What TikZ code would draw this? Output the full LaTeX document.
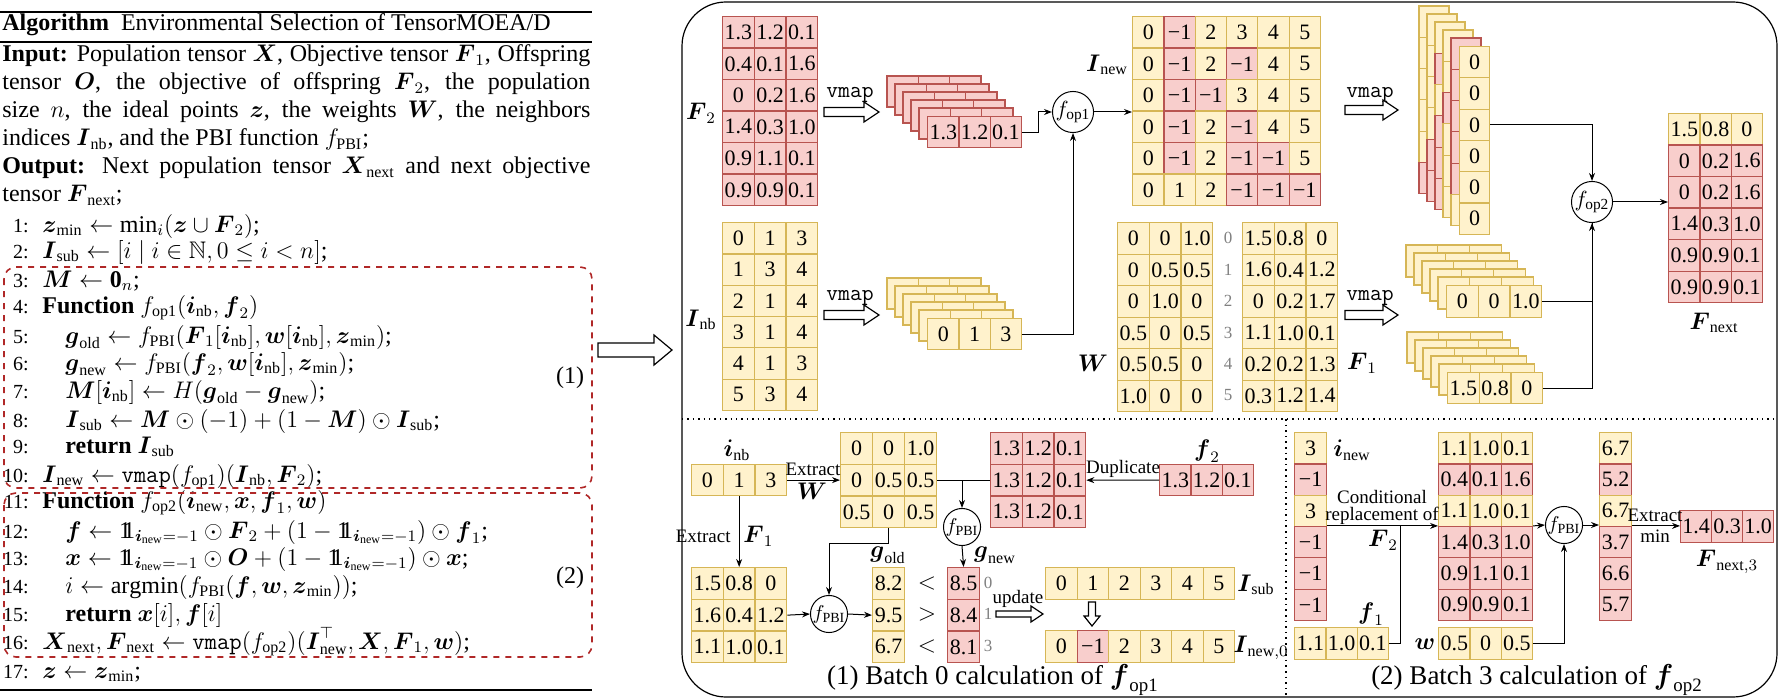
\documentclass[tikz,border=0pt]{standalone}
\usepackage{amsmath,amssymb}
\usepackage{fontspec}
\setmainfont{Liberation Serif}
\usetikzlibrary{arrows.meta,calc}
\definecolor{yF}{HTML}{FFF2CC}\definecolor{yD}{HTML}{D6B656}
\definecolor{rF}{HTML}{F8CECC}\definecolor{rD}{HTML}{B85450}
\definecolor{dred}{HTML}{B02828}
\newcommand\cellfont{\fontsize{11}{13}\selectfont}
\newcommand\algfont{\fontsize{12}{14}\selectfont}
\newcommand\bs[1]{\boldsymbol{#1}}
\newcommand\indic{\mathrm{1\!\!1}}
\newcommand\mrow[6]{\foreach[count=\i from 0] \cc/\t in #6{%
  \node[cell,fill=\cc F,draw=\cc D,minimum width=#4*0.5pt,minimum height=#5*0.5pt] (#1-\i) at (#2+\i*#4,#3) {\t};}}
\newcommand\mat[6]{\foreach[count=\j from 0] \rr in #6{\mrow{#1-\j}{#2}{#3+\j*#5}{#4}{#5}{\rr}}}
\newcommand\mcol[6]{\foreach[count=\i from 0] \cc/\t in #6{%
  \node[cell,fill=\cc F,draw=\cc D,minimum width=#4*0.5pt,minimum height=#5*0.5pt] (#1-\i) at (#2,#3+\i*#5) {\t};}}
\newcommand\hstack[7]{\foreach \k in {5,...,1}{\foreach \i in {0,1,2}{%
  \draw[fill=#6F,draw=#6D,line width=.6pt] (#2+\i*#4-\k*8,#3-\k*8) rectangle ++(#4,#5);}}%
  \mrow{#1}{#2}{#3}{#4}{#5}{#7}}
\newcommand\harrow[6]{\draw[fill=white,line width=.6pt] (#1,#3-#4) -- (#2-#6,#3-#4) -- (#2-#6,#3-#5) -- (#2,#3) -- (#2-#6,#3+#5) -- (#2-#6,#3+#4) -- (#1,#3+#4) -- cycle;}
\newcommand\varrow[6]{\draw[fill=white,line width=.6pt] (#1-#4,#2) -- (#1-#4,#3-#6) -- (#1-#5,#3-#6) -- (#1,#3) -- (#1+#5,#3-#6) -- (#1+#4,#3-#6) -- (#1+#4,#2) -- cycle;}
\begin{document}
\begin{tikzpicture}[x=0.5pt,y=-0.5pt,
  cell/.style={inner sep=0pt,anchor=north west,font=\cellfont,line width=.6pt},
  arr/.style={-{Stealth[length=4pt,width=3pt]},line width=.5pt},
  ln/.style={line width=.5pt},
  op/.style={circle,draw,inner sep=0pt,minimum size=20pt,font=\cellfont,line width=.5pt},
  pbi/.style={circle,draw,inner sep=0pt,minimum size=15.5pt,font=\fontsize{10}{12}\selectfont,line width=.5pt},
  lab/.style={font=\fontsize{12}{14}\selectfont,inner sep=1pt},
  wd/.style={font=\fontsize{9.5}{11}\selectfont,inner sep=1pt},
  num/.style={anchor=base east,font=\fontsize{10}{10}\selectfont,inner sep=0pt},
  alg/.style={anchor=base west,font=\algfont,inner sep=0pt},
  idx/.style={font=\fontsize{8.5}{9}\selectfont,text=gray,inner sep=0pt},
  vm/.style={font=\ttfamily\fontsize{11.5}{12}\selectfont,inner sep=0pt}]
\useasboundingbox (0,0) rectangle (1780,700);
% ---------------- algorithm ----------------
\draw[line width=0.9pt] (0,12) -- (592,12);
\draw[line width=0.6pt] (0,42) -- (592,42);
\draw[line width=0.6pt] (0,690) -- (592,690);
\node[alg] (title) at (2,31) {\textbf{Algorithm}\ \ Environmental Selection of TensorMOEA/D};
\node[alg,text width=294pt,align=justify] (inp) at (2,62) {\hyphenpenalty=10000\hangindent=20pt\hangafter=1 \textbf{Input:} Population tensor $\bs{X}$, Objective tensor $\bs{F}_1$, Offspring\linebreak tensor $\bs{O}$, the objective of offspring $\bs{F}_2$, the population\linebreak size $n$, the ideal points $\bs{z}$, the weights $\bs{W}$, the neighbors\linebreak indices $\bs{I}_{\mathrm{nb}}$, and the PBI function $f_{\mathrm{PBI}}$;};
\node[alg,text width=294pt,align=justify] (outp) at (2,174) {\hyphenpenalty=10000\hangindent=20pt\hangafter=1 \textbf{Output:} Next population tensor $\bs{X}_{\mathrm{next}}$ and next objective\linebreak tensor $\bs{F}_{\mathrm{next}}$;};
\foreach \n/\yy in {1/232,2/258,3/287,4/313,5/343,6/370,7/398,8/427,9/453,10/482,11/508,12/538,13/565,14/593,15/621,16/649,17/678}{\node[num] (n\n) at (29,\yy) {\n:};}
\node[alg] (l1) at (42,232) {$\bs{z}_{\min}\leftarrow\min_i(\bs{z}\cup\bs{F}_2)$;};
\node[alg] (l2) at (42,258) {$\bs{I}_{\mathrm{sub}}\leftarrow[i\mid i\in\mathbb{N},0\le i<n]$;};
\node[alg] (l3) at (42,287) {$\bs{M}\leftarrow\mathbf{0}_n$;};
\node[alg] (l4) at (42,313) {\textbf{Function} $f_{\mathrm{op1}}(\bs{i}_{\mathrm{nb}},\bs{f}_2)$};
\node[alg] (l5) at (65,343) {$\bs{g}_{\mathrm{old}}\leftarrow f_{\mathrm{PBI}}(\bs{F}_1[\bs{i}_{\mathrm{nb}}],\bs{w}[\bs{i}_{\mathrm{nb}}],\bs{z}_{\min})$;};
\node[alg] (l6) at (65,370) {$\bs{g}_{\mathrm{new}}\leftarrow f_{\mathrm{PBI}}(\bs{f}_2,\bs{w}[\bs{i}_{\mathrm{nb}}],\bs{z}_{\min})$;};
\node[alg] (l7) at (65,398) {$\bs{M}[\bs{i}_{\mathrm{nb}}]\leftarrow H(\bs{g}_{\mathrm{old}}-\bs{g}_{\mathrm{new}})$;};
\node[alg] (l8) at (65,427) {$\bs{I}_{\mathrm{sub}}\leftarrow\bs{M}\odot(-1)+(1-\bs{M})\odot\bs{I}_{\mathrm{sub}}$;};
\node[alg] (l9) at (65,453) {\textbf{return} $\bs{I}_{\mathrm{sub}}$};
\node[alg] (l10) at (42,482) {$\bs{I}_{\mathrm{new}}\leftarrow\mathtt{vmap}(f_{\mathrm{op1}})(\bs{I}_{\mathrm{nb}},\bs{F}_2)$;};
\node[alg] (l11) at (42,508) {\textbf{Function} $f_{\mathrm{op2}}(\bs{i}_{\mathrm{new}},\bs{x},\bs{f}_1,\bs{w})$};
\node[alg] (l12) at (65,538) {$\bs{f}\leftarrow\indic_{\bs{i}_{\mathrm{new}}=-1}\odot\bs{F}_2+(1-\indic_{\bs{i}_{\mathrm{new}}=-1})\odot\bs{f}_1$;};
\node[alg] (l13) at (65,565) {$\bs{x}\leftarrow\indic_{\bs{i}_{\mathrm{new}}=-1}\odot\bs{O}+(1-\indic_{\bs{i}_{\mathrm{new}}=-1})\odot\bs{x}$;};
\node[alg] (l14) at (65,593) {$i\leftarrow\mathrm{argmin}(f_{\mathrm{PBI}}(\bs{f},\bs{w},\bs{z}_{\min}))$;};
\node[alg] (l15) at (65,621) {\textbf{return} $\bs{x}[i],\bs{f}[i]$};
\node[alg] (l16) at (42,649) {$\bs{X}_{\mathrm{next}},\bs{F}_{\mathrm{next}}\leftarrow\mathtt{vmap}(f_{\mathrm{op2}})(\bs{I}_{\mathrm{new}}^{\top},\bs{X},\bs{F}_1,\bs{w})$;};
\node[alg] (l17) at (42,678) {$\bs{z}\leftarrow\bs{z}_{\min}$;};
\draw[dashed,dred,line width=0.8pt,rounded corners=6pt] (4,267) rectangle (592,488);
\draw[dashed,dred,line width=0.8pt,rounded corners=6pt] (4,493) rectangle (592,657);
\node[font=\algfont] (b1) at (570,378) {(1)};
\node[font=\algfont] (b2) at (570,578) {(2)};
\harrow{598}{672}{350}{7}{15}{18}
% ---------------- panel ----------------
\draw[line width=.6pt,rounded corners=22pt] (682,2) rectangle (1777,697);
\draw[dotted,line width=.7pt] (682,419) -- (1777,419);
\draw[dotted,line width=.8pt] (1286,419) -- (1286,697);
% top
\mat{F2}{722}{16}{31.7}{31.5}{{{r/1.3,r/1.2,r/0.1},{r/0.4,r/0.1,r/1.6},{r/0,r/0.2,r/1.6},{r/1.4,r/0.3,r/1.0},{r/0.9,r/1.1,r/0.1},{r/0.9,r/0.9,r/0.1}}}
\node[lab] (F2l) at (701,113) {$\bs{F}_2$};
\mat{Inb}{722}{222}{31.7}{31.3}{{{y/0,y/1,y/3},{y/1,y/3,y/4},{y/2,y/1,y/4},{y/3,y/1,y/4},{y/4,y/1,y/3},{y/5,y/3,y/4}}}
\node[lab] (Inbl) at (701,320) {$\bs{I}_{\mathrm{nb}}$};
\node[vm] (vm1) at (850,95) {vmap}; \harrow{824}{879}{112}{4.5}{10}{15}
\node[vm] (vm2) at (850,298) {vmap}; \harrow{824}{879}{315}{4.5}{10}{15}
\hstack{f2s}{927}{116}{31.3}{31}{r}{{r/1.3,r/1.2,r/0.1}}
\hstack{nbs}{927}{318}{31.3}{31}{y}{{y/0,y/1,y/3}}
\node[op] (op1) at (1073,112) {$f_{\mathrm{op1}}$};
\draw[arr] (f2s-2.east) -- ++(16,0) |- (op1.west);
\draw[arr] (nbs-2.east) -| (op1.south);
\mat{Inew}{1132}{16}{31.3}{31.5}{{{y/0,r/−1,y/2,y/3,y/4,y/5},{y/0,r/−1,y/2,r/−1,y/4,y/5},{y/0,r/−1,r/−1,y/3,y/4,y/5},{y/0,r/−1,y/2,r/−1,y/4,y/5},{y/0,r/−1,y/2,r/−1,r/−1,y/5},{y/0,y/1,y/2,r/−1,r/−1,r/−1}}}
\node[lab] (Inewl) at (1107,65) {$\bs{I}_{\mathrm{new}}$};
\draw[arr] (op1.east) -- (op1.east -| Inew-0-0.west);
\node[vm] (vm3) at (1370,95) {vmap}; \harrow{1345}{1398}{110}{4.5}{10}{15}
% vertical stack
\foreach \k/\cl in {5/{y,y,y,y,y,r},4/{y,y,y,y,r,r},3/{y,r,y,r,r,r},2/{y,y,r,y,y,y},1/{r,r,r,r,r,y}}{
  \foreach \cc [count=\i from 0] in \cl {\draw[fill=\cc F,draw=\cc D,line width=.6pt] (1459-\k*8,46+\i*31.3-\k*8) rectangle ++(30,31.3);}}
\mcol{vs}{1459}{46}{30}{31.3}{{y/0,y/0,y/0,y/0,y/0,y/0}}
\node[op] (op2) at (1592,202) {$f_{\mathrm{op2}}$};
\draw[arr] (vs-2.east) -| (op2.north);
\mat{W}{1117}{222}{31.7}{31.5}{{{y/0,y/0,y/1.0},{y/0,y/0.5,y/0.5},{y/0,y/1.0,y/0},{y/0.5,y/0,y/0.5},{y/0.5,y/0.5,y/0},{y/1.0,y/0,y/0}}}
\node[lab] (Wl) at (1093,363) {$\bs{W}$};
\foreach \i in {0,...,5}{\node[idx] (ix\i) at (1228,238+\i*31.5) {\i};}
\mat{F1}{1242}{222}{31.7}{31.5}{{{y/1.5,y/0.8,y/0},{y/1.6,y/0.4,y/1.2},{y/0,y/0.2,y/1.7},{y/1.1,y/1.0,y/0.1},{y/0.2,y/0.2,y/1.3},{y/0.3,y/1.2,y/1.4}}}
\node[lab] (F1l) at (1362,363) {$\bs{F}_1$};
\node[vm] (vm4) at (1370,298) {vmap}; \harrow{1345}{1398}{315}{4.5}{10}{15}
\hstack{ws}{1446}{285}{31.7}{32}{y}{{y/0,y/0,y/1.0}}
\hstack{f1s}{1447}{372}{31.7}{31}{y}{{y/1.5,y/0.8,y/0}}
\draw[arr] (ws-2.east) -| (op2.south);
\draw[ln] (f1s-2.east) -| (op2.south);
\mat{Fn}{1668}{113}{31.3}{31.5}{{{y/1.5,y/0.8,y/0},{r/0,r/0.2,r/1.6},{r/0,r/0.2,r/1.6},{r/1.4,r/0.3,r/1.0},{r/0.9,r/0.9,r/0.1},{r/0.9,r/0.9,r/0.1}}}
\node[lab] (Fnl) at (1714,323) {$\bs{F}_{\mathrm{next}}$};
\draw[arr] (op2.east) -- (op2.east -| Fn-0-0.west);
% ---------------- bottom left ----------------
\mrow{inb}{691}{464}{31.7}{31}{{y/0,y/1,y/3}}
\node[lab] (inbl) at (737,450) {$\bs{i}_{\mathrm{nb}}$};
\mat{ws2}{840}{432}{32}{31.7}{{{y/0,y/0,y/1.0},{y/0,y/0.5,y/0.5},{y/0.5,y/0,y/0.5}}}
\draw[arr] (inb-2.east) -- (inb-2.east -| ws2-0-0.west);
\node[wd] (ex1) at (813,469) {Extract};
\node[lab] (ex1w) at (812,491) {$\bs{W}$};
\mat{dup}{990}{432}{31.7}{31.7}{{{r/1.3,r/1.2,r/0.1},{r/1.3,r/1.2,r/0.1},{r/1.3,r/1.2,r/0.1}}}
\draw[ln] (ws2-1-2.east) -- (dup-1-0.west);
\node[pbi] (pbi1) at (962,527) {$f_{\mathrm{PBI}}$};
\coordinate (j0) at (pbi1.north |- ws2-1-2.east);
\draw[arr] (j0) -- (pbi1.north);
\mrow{f2r}{1159}{464}{31.3}{31}{{r/1.3,r/1.2,r/0.1}}
\node[lab] (f2l) at (1207,451) {$\bs{f}_2$};
\draw[arr] (f2r-0.west) -- (dup-1-2.east);
\node[wd] (dupl) at (1123,469) {Duplicate};
\mat{f1sub}{691}{567}{31.7}{31.7}{{{y/1.5,y/0.8,y/0},{y/1.6,y/0.4,y/1.2},{y/1.1,y/1.0,y/0.1}}}
\draw[arr] (inb-1.south) -- (f1sub-0-1.north);
\node[wd,anchor=east] (ex2) at (733,536) {Extract};
\node[lab,anchor=west] (ex2f) at (741,536) {$\bs{F}_1$};
\node[pbi] (pbi2) at (829,614) {$f_{\mathrm{PBI}}$};
\draw[arr] (f1sub-1-2.east) -- (pbi2.west);
\draw[arr] (ws2-2-1.south) -- ++(0,15) -| (pbi2.north);
\mcol{gold}{872}{567}{32}{31.7}{{y/8.2,y/9.5,y/6.7}}
\node[lab] (goldl) at (888,555) {$\bs{g}_{\mathrm{old}}$};
\draw[arr] (pbi2.east) -- (gold-1.west);
\node[lab] (lt1) at (927,583) {$<$};
\node[lab] (gt1) at (927,614) {$>$};
\node[lab] (lt2) at (927,646) {$<$};
\mcol{gnew}{947}{567}{32}{31.7}{{r/8.5,r/8.4,r/8.1}}
\node[lab] (gnewl) at (995,555) {$\bs{g}_{\mathrm{new}}$};
\draw[arr] (pbi1.south) -- (gnew-0.north);
\node[idx] (gi0) at (988,583) {0}; \node[idx] (gi1) at (988,614) {1}; \node[idx] (gi3) at (988,646) {3};
\node[wd] (upd) at (1018,599) {update};
\harrow{996}{1043}{614}{3}{8}{12}
\mrow{isub}{1045}{567}{31.5}{31.5}{{y/0,y/1,y/2,y/3,y/4,y/5}}
\node[lab] (isubl) at (1256,585) {$\bs{I}_{\mathrm{sub}}$};
\varrow{1092}{602}{626}{3.5}{8}{10}
\mrow{inew0}{1045}{630}{31.5}{31.5}{{y/0,r/−1,y/2,y/3,y/4,y/5}}
\node[lab] (inew0l) at (1261,648) {$\bs{I}_{\mathrm{new},0}$};
\node[font=\fontsize{13.5}{15}\selectfont] (cap1) at (993,680) {(1) Batch 0 calculation of $\bs{f}_{\mathrm{op1}}$};
% ---------------- bottom right ----------------
\mcol{inew}{1294}{432}{32}{31.3}{{y/3,r/−1,y/3,r/−1,r/−1,r/−1}}
\node[lab] (inewl) at (1352,450) {$\bs{i}_{\mathrm{new}}$};
\mat{mid}{1438}{432}{31.3}{31.3}{{{y/1.1,y/1.0,y/0.1},{r/0.4,r/0.1,r/1.6},{y/1.1,y/1.0,y/0.1},{r/1.4,r/0.3,r/1.0},{r/0.9,r/1.1,r/0.1},{r/0.9,r/0.9,r/0.1}}}
\coordinate (c1) at (inew-3.north east);
\draw[arr] (c1) -- (c1 -| mid-0-0.west);
\node[wd] (cr1) at (1382,497) {Conditional};
\node[wd] (cr2) at (1382,516) {replacement of};
\node[lab] (cr3) at (1383,540) {$\bs{F}_2$};
\mrow{f1r}{1294}{627}{31.3}{32}{{y/1.1,y/1.0,y/0.1}}
\node[lab] (f1rl) at (1371,614) {$\bs{f}_1$};
\coordinate (j1) at (1400,0 |- c1);
\draw[ln] (f1r-2.east) -| (j1);
\mrow{wr}{1438}{627}{31.3}{32}{{y/0.5,y/0,y/0.5}}
\node[lab] (wrl) at (1425,644) {$\bs{w}$};
\node[pbi] (pbi3) at (1564,525) {$f_{\mathrm{PBI}}$};
\draw[arr] (mid-3-2.north east) -- (pbi3.west);
\draw[arr] (wr-2.east) -| (pbi3.south);
\mcol{col}{1599}{432}{32}{31.3}{{y/6.7,r/5.2,y/6.7,r/3.7,r/6.6,r/5.7}}
\draw[arr] (pbi3.east) -- (pbi3.east -| col-0.west);
\mrow{fn3}{1680}{510}{31}{31.5}{{r/1.4,r/0.3,r/1.0}}
\draw[arr] (col-3.north east) -- (col-3.north east -| fn3-0.west);
\node[wd] (ex3) at (1655,515) {Extract};
\node[wd] (ex3m) at (1655,536) {min};
\node[lab] (fn3l) at (1727,562) {$\bs{F}_{\mathrm{next},3}$};
\node[font=\fontsize{13.5}{15}\selectfont] (cap2) at (1537,680) {(2) Batch 3 calculation of $\bs{f}_{\mathrm{op2}}$};
\end{tikzpicture}
\end{document}
